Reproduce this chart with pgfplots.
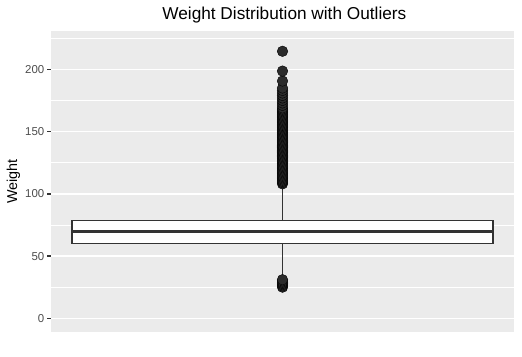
\documentclass[border=0pt]{standalone}
\usepackage{pgfplots}
\pgfplotsset{compat=1.18}
\usepackage{fontspec}
\setmainfont{Liberation Sans}
\definecolor{panelbg}{HTML}{EBEBEB}
\definecolor{grey20}{HTML}{333333}
\definecolor{grey30}{HTML}{4D4D4D}
\definecolor{ptcol}{HTML}{2B2B2B}
\begin{document}
\begin{tikzpicture}
\begin{axis}[
  at={(0,0)}, anchor=south west,
  scale only axis, width=463bp, height=301bp,
  xmin=-0.4125, xmax=0.4125,
  ymin=-11, ymax=230.8,
  axis background/.style={fill=panelbg},
  axis line style={draw=none},
  xtick=\empty,
  ytick={0,50,100,150,200},
  minor ytick={25,75,125,175,225},
  ytick pos=left,
  ymajorgrids, yminorgrids,
  major grid style={white, line width=1.4bp},
  minor grid style={white, line width=0.7bp},
  tick align=outside,
  major tick length=3.6bp,
  minor tick length=0pt,
  ytick style={grey20, line width=1.4bp},
  yticklabel style={font=\fontsize{11.5}{12}\selectfont, text=grey30, inner sep=0pt, xshift=-2.9bp},
  /pgf/number format/assume math mode=true,
  ylabel={Weight},
  ylabel style={font=\fontsize{14.4}{16}\selectfont, at={(axis description cs:-0.081,0.5)}, anchor=center},
  title={Weight Distribution with Outliers},
  every axis title/.style={font=\fontsize{17.3}{19}\selectfont, at={(axis description cs:0.504,1.0382)}, anchor=base, inner sep=0pt},
  clip=false,
]
% whiskers
\addplot[grey20, line width=1.4bp] coordinates {(0,78.5) (0,106.5)};
\addplot[grey20, line width=1.4bp] coordinates {(0,32) (0,60)};
% box
\addplot[draw=grey20, fill=white, line width=1.6bp] coordinates {(-0.375,60) (0.375,60) (0.375,78.5) (-0.375,78.5)} -- cycle;
% median
\addplot[grey20, line width=3bp] coordinates {(-0.375,69.6) (0.375,69.6)};
% outliers
\addplot[only marks, mark=*, mark size=5.3bp, mark options={fill=ptcol, draw=none}] coordinates {
(0,25)(0,26)(0,27)(0,28)(0,29)(0,30)(0,31)
(0,108)(0,109)(0,110)(0,111)(0,112)(0,113)(0,114)(0,115)(0,116)(0,117)(0,118)(0,119)
(0,120)(0,121)(0,122)(0,123)(0,124)(0,125)(0,126)(0,127)(0,128)(0,129)
(0,130)(0,131)(0,132)(0,133)(0,134)(0,135)(0,136)(0,137)(0,138)(0,139)
(0,140)(0,141)(0,142)(0,143)(0,144)(0,145)(0,146)(0,147)(0,148)(0,149)
(0,150)(0,151)(0,152)(0,153)(0,154)(0,155)(0,156)(0,157)(0,158)(0,159)
(0,160)(0,161)(0,162)(0,163)(0,164)(0,165)(0,166)(0,167)(0,168)(0,169)
(0,171)(0,173)(0,175)(0,177)(0,179)(0,181)(0,183)(0,185)
(0,190.6)(0,198.6)(0,214.5)
};
\end{axis}
\pgfresetboundingbox
\path[use as bounding box] (-51bp,-25bp) rectangle (471bp,332bp);
\end{tikzpicture}
\end{document}
